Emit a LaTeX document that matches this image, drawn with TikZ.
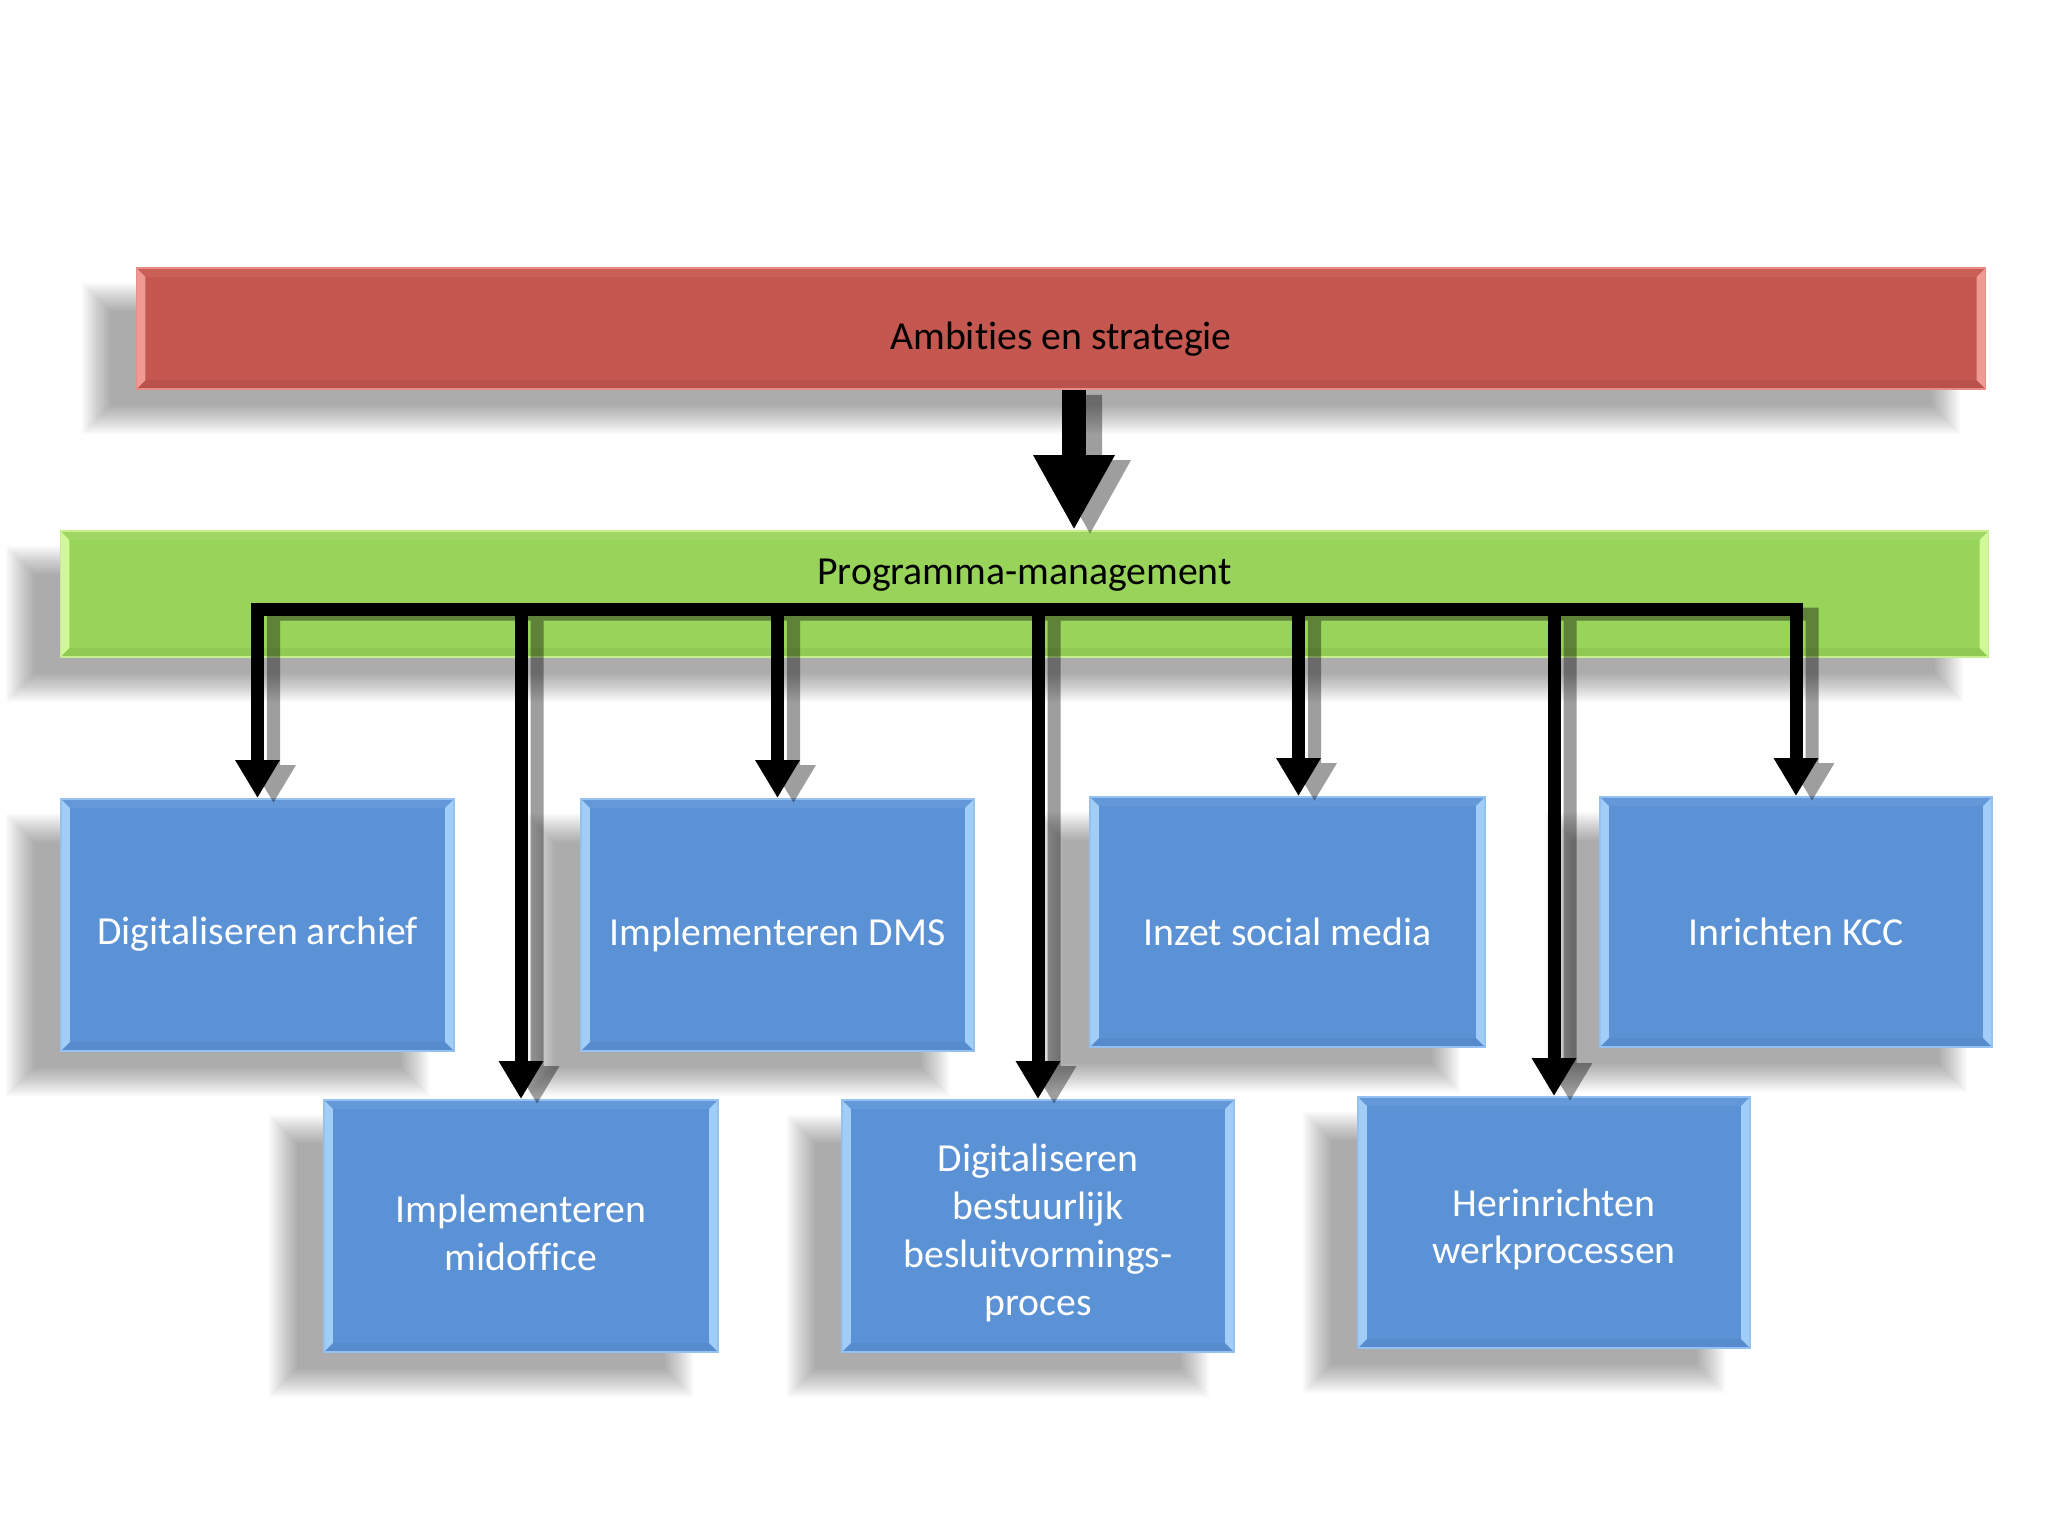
\documentclass[tikz,border=0pt]{standalone}
\usepackage{fontspec}
\setmainfont{Carlito}[Ligatures=NoCommon]
\usetikzlibrary{arrows.meta,calc}
\pgfdeclarelayer{bg}
\pgfsetlayers{bg,main}

\definecolor{redf}{HTML}{C4574F}
\definecolor{redl}{HTML}{F09A94}
\definecolor{redd}{HTML}{BA514A}
\definecolor{greenf}{HTML}{98D35A}
\definecolor{greenl}{HTML}{D0F79A}
\definecolor{greend}{HTML}{90CA52}
\definecolor{bluef}{HTML}{5B92D5}
\definecolor{bluel}{HTML}{A2CDF7}
\definecolor{blued}{HTML}{568BCE}

\newcommand\mltext[1]{\vbox{\baselineskip=13.6pt\lineskiplimit=-20pt\lineskip=0pt\halign{\hfil##\hfil\cr\rule{0pt}{11.8pt}#1\crcr}}}

\tikzset{
  bevel/.style n args={3}{fill=#1, draw=#2!80!#1, line width=0.5pt,
    path picture={
      \fill[#1!88!#2] (path picture bounding box.north west) -- (path picture bounding box.north east)
        -- ++(-0.09cm,-0.09cm) -- ([xshift=0.09cm,yshift=-0.09cm]path picture bounding box.north west) -- cycle;
      \fill[#3] (path picture bounding box.south west) -- (path picture bounding box.south east)
        -- ++(-0.09cm,0.09cm) -- ([xshift=0.09cm,yshift=0.09cm]path picture bounding box.south west) -- cycle;
      \fill[#2] (path picture bounding box.north west) -- ++(0.09cm,-0.09cm)
        -- ([xshift=0.09cm,yshift=0.09cm]path picture bounding box.south west) -- (path picture bounding box.south west) -- cycle;
      \fill[#2] (path picture bounding box.north east) -- ++(-0.09cm,-0.09cm)
        -- ([xshift=-0.09cm,yshift=0.09cm]path picture bounding box.south east) -- (path picture bounding box.south east) -- cycle;
    }},
  txt/.style={font=\fontsize{11.3}{13.6}\selectfont, align=center, inner sep=0pt},
  lowered/.style={execute at begin node={\rule{0pt}{#1}}},
  redbar/.style={bevel={redf}{redl}{redd}, txt, lowered=13.6pt, text=black, minimum width=18.48cm, minimum height=1.21cm},
  greenbar/.style={bevel={greenf}{greenl}{greend}, minimum width=19.27cm, minimum height=1.26cm, inner sep=0pt},
  bluebox/.style={bevel={bluef}{bluel}{blued}, txt, text=white, minimum width=3.93cm, minimum height=2.52cm},
  oneline/.style={lowered=13.2pt},
  conn/.style={line width=0.13cm, -{Triangle[length=0.38cm,width=0.42cm]}},
  bothconn/.style={line width=0.13cm, {Triangle[length=0.38cm,width=0.42cm]}-{Triangle[length=0.38cm,width=0.42cm]}},
  bigarr/.style={line width=0.24cm, -{Triangle[length=0.75cm,width=0.76cm]}},
  shadowlayer/.style={black, opacity=0.022},
}

\begin{document}
\begin{tikzpicture}[x=0.01cm, y=-0.01cm]
\useasboundingbox (0,0) rectangle (2048,1536);

% boxes
\node[redbar] (red) at (1061,328.5) {Ambities en strategie};
\node[greenbar] (green) at (1024.5,594) {};
\node[txt, text=black] (pmlabel) at ([yshift=0.19cm]green.center) {Programma-management};

\node[bluebox, oneline] (b1) at (257.5,925) {Digitaliseren archief};
\node[bluebox, oneline] (b2) at (777.5,925) {Implementeren DMS};
\node[bluebox, oneline, minimum width=3.95cm, minimum height=2.50cm] (b3) at (1287.5,922) {Inzet social media};
\node[bluebox, oneline, minimum width=3.92cm, minimum height=2.50cm] (b4) at (1796,922) {Inrichten KCC};
\node[bluebox, minimum width=3.94cm] (b5) at (521,1226) {\mltext{Implementeren\cr midoffice}};
\node[bluebox, minimum width=3.92cm] (b6) at (1038,1226) {\mltext{Digitaliseren\cr bestuurlijk\cr besluitvormings-\cr proces}};
\node[bluebox, minimum width=3.92cm, minimum height=2.51cm] (b7) at (1554,1222.5) {\mltext{Herinrichten\cr werkprocessen}};

% background and soft shadows of the boxes
\begin{pgfonlayer}{bg}
\fill[white] (0,0) rectangle (2048,1536);
\foreach \n in {red,green,b1,b2,b3,b4,b5,b6,b7}{
  \foreach \k in {0,...,14}{
    \pgfmathsetmacro{\e}{14-2*\k}
    \fill[shadowlayer] ($(\n.north west)+(-40-\e,30-\e)$) rectangle ($(\n.south east)+(-40+\e,30+\e)$);
  }
}
\end{pgfonlayer}

% helper coordinates
\coordinate (busy) at (0,609);
\path ([xshift=0.13cm]red.south) coordinate (ra);
\path ([xshift=0.11cm]b3.north) coordinate (b3in);

% connector shadows
\begin{scope}[transform canvas={xshift=0.16cm,yshift=-0.05cm}]
\begin{scope}[transparency group, opacity=0.38]
  \draw[bigarr] (ra) -- (ra |- green.north);
  \draw[bothconn] (b1.north) -- (b1.north |- busy) -- (b4.north |- busy) -- (b4.north);
  \draw[conn] (b5.north |- busy) -- (b5.north);
  \draw[conn] (b2.north |- busy) -- (b2.north);
  \draw[conn] (b6.north |- busy) -- (b6.north);
  \draw[conn] (b3in |- busy) -- (b3in);
  \draw[conn] (b7.north |- busy) -- (b7.north);
\end{scope}
\end{scope}

% connectors
\draw[bigarr] (ra) -- (ra |- green.north);
\draw[bothconn] (b1.north) -- (b1.north |- busy) -- (b4.north |- busy) -- (b4.north);
\draw[conn] (b5.north |- busy) -- (b5.north);
\draw[conn] (b2.north |- busy) -- (b2.north);
\draw[conn] (b6.north |- busy) -- (b6.north);
\draw[conn] (b3in |- busy) -- (b3in);
\draw[conn] (b7.north |- busy) -- (b7.north);
\end{tikzpicture}
\end{document}
